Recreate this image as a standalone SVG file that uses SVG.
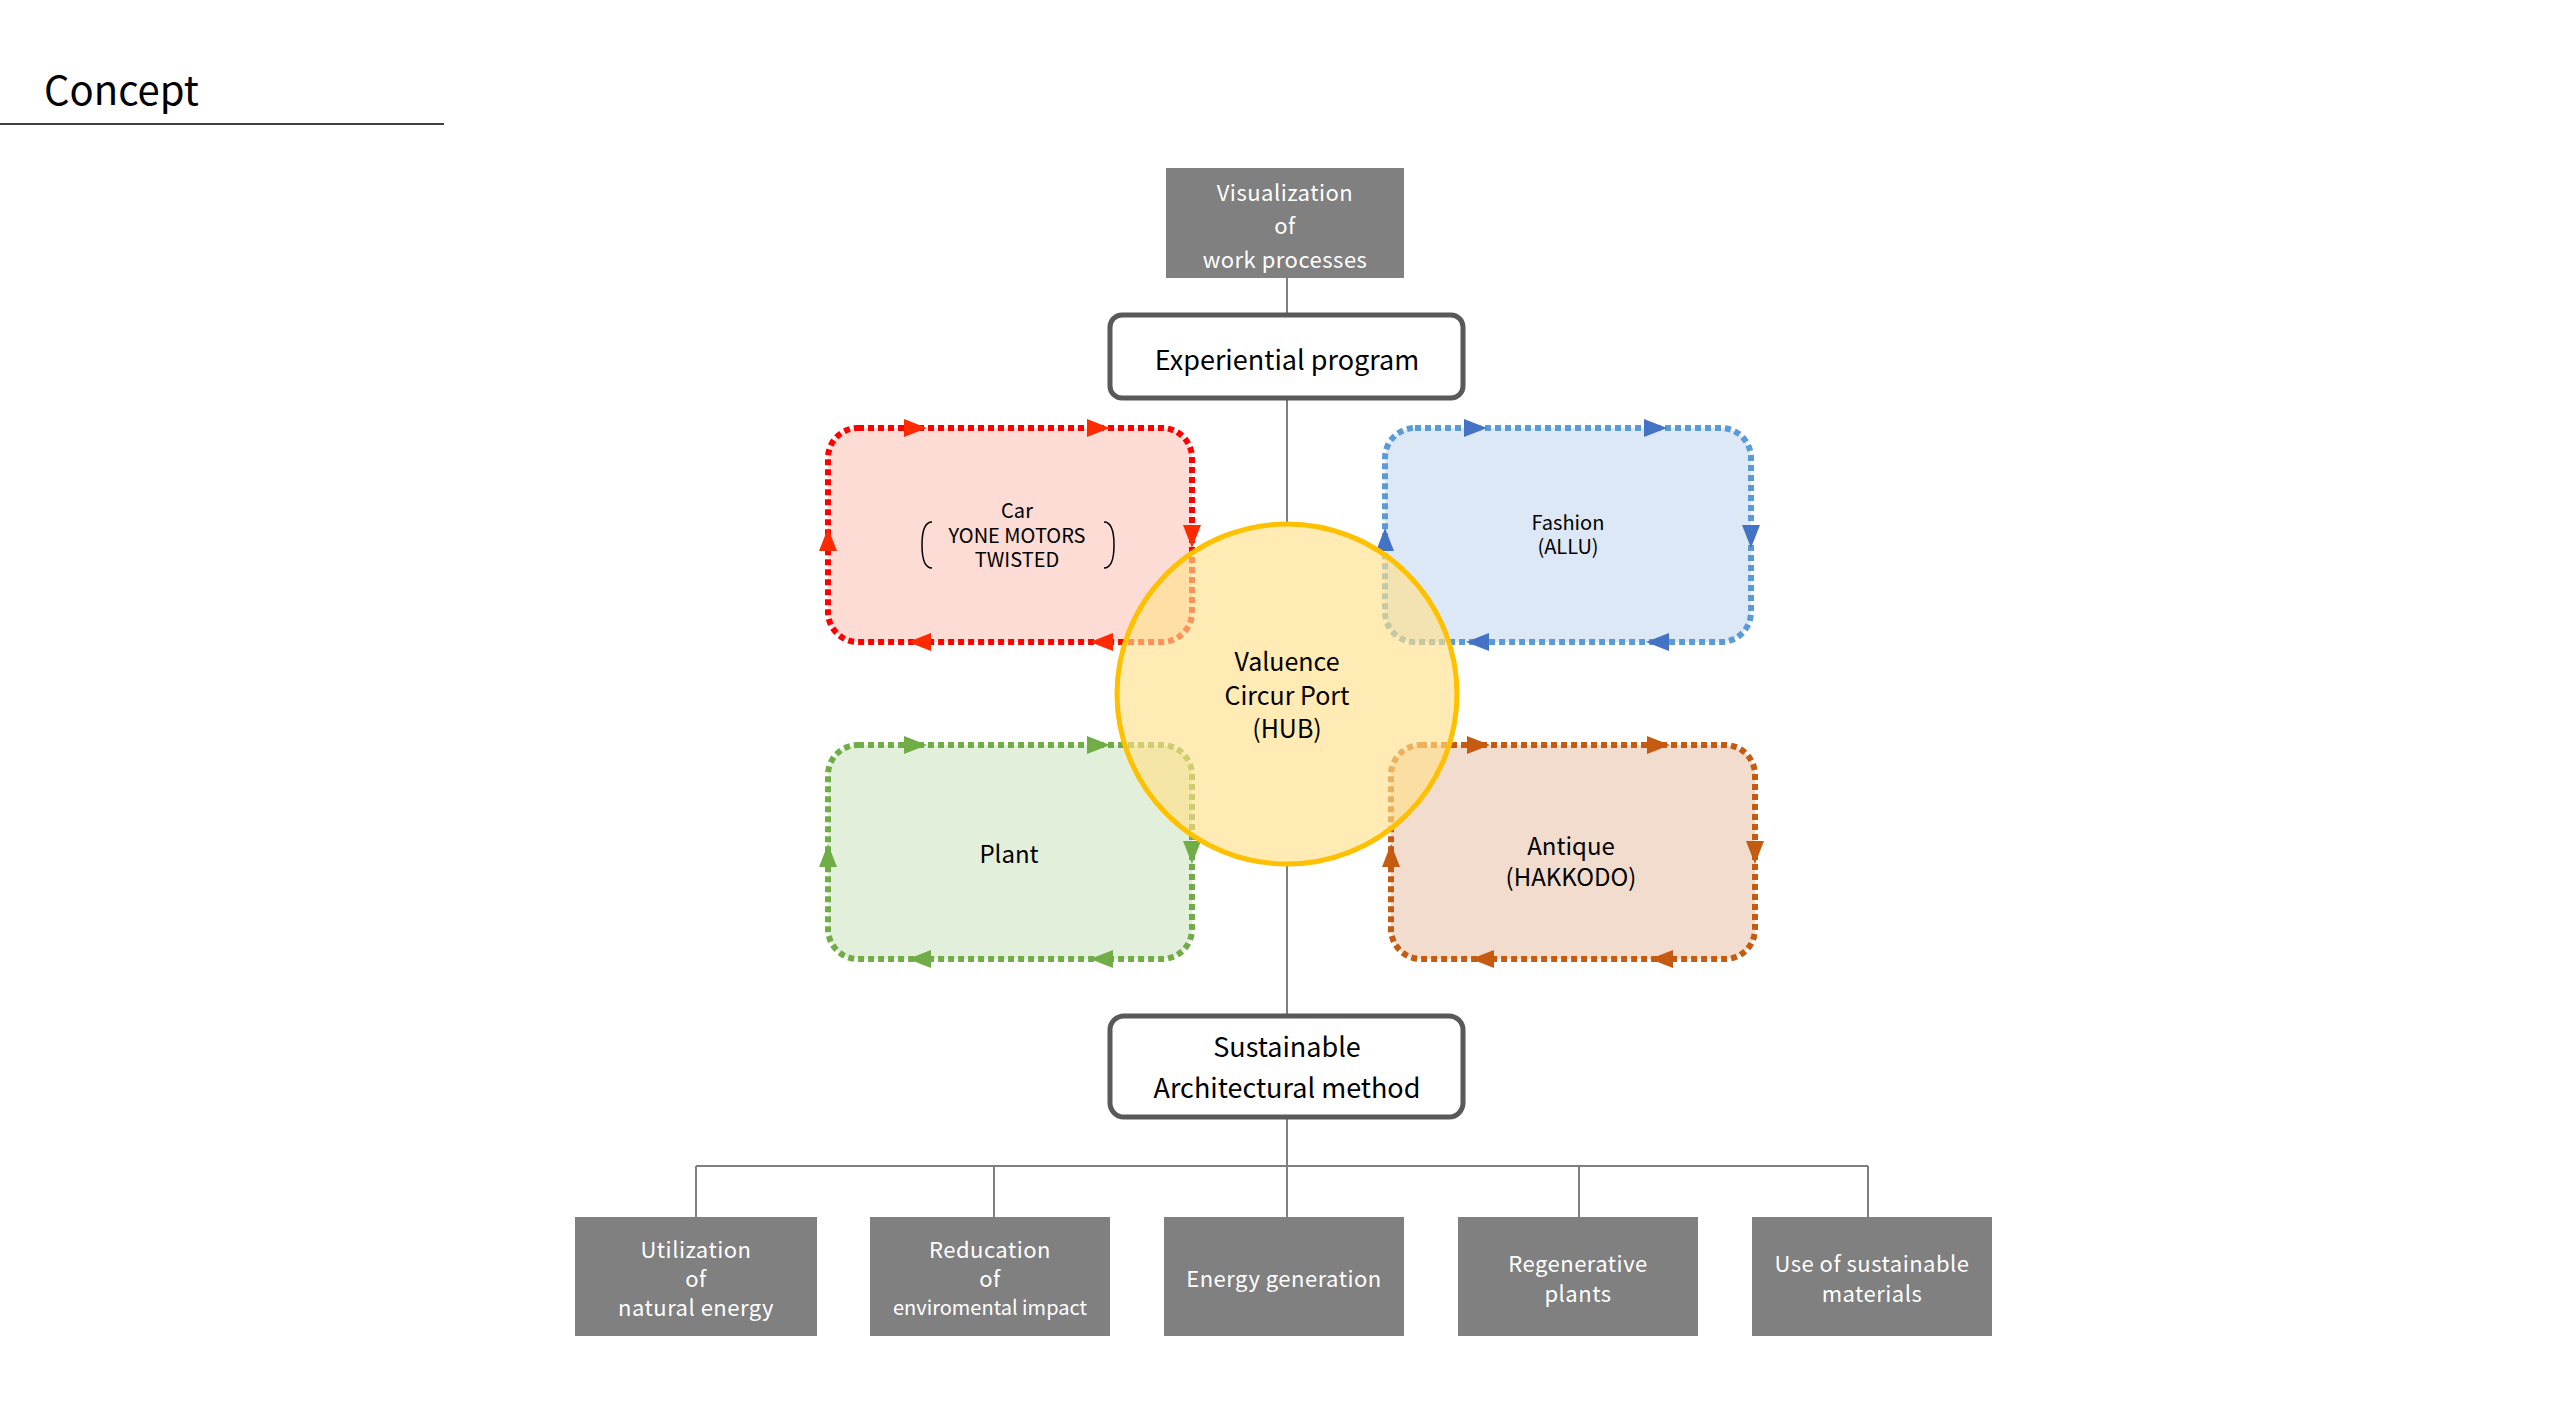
<svg xmlns="http://www.w3.org/2000/svg" xmlns:xlink="http://www.w3.org/1999/xlink" width="2560" height="1416" viewBox="0 0 2560 1416">
<style>
text{font-family:"Noto Sans CJK JP","Liberation Sans",sans-serif;text-anchor:middle;dominant-baseline:central}
.gray{fill:#808080}
.wt{fill:#fff;font-size:22px;letter-spacing:0.5px}
.wb{fill:#fff;stroke:#595959;stroke-width:5}
.bt{fill:#000;font-size:27px}
.ln{stroke:#7f7f7f;stroke-width:2;fill:none}
.loop{stroke-width:6;stroke-dasharray:6 4}
.st{fill:#000;font-size:20px}
</style>
<defs>
<polygon id="ar" points="-11,-9 12,0 -11,9"/>
</defs>
<rect width="2560" height="1416" fill="#fff"/>
<g id="title">
<text x="44" y="88" style="text-anchor:start;font-size:40px">Concept</text>
<line x1="0" y1="124" x2="444" y2="124" stroke="#404040" stroke-width="2"/>
</g>
<g id="connectors">
<line class="ln" x1="1287" y1="278" x2="1287" y2="315"/>
<line class="ln" x1="1287" y1="398" x2="1287" y2="524"/>
<line class="ln" x1="1287" y1="864" x2="1287" y2="1016"/>
<line class="ln" x1="1287" y1="1117" x2="1287" y2="1217"/>
<line class="ln" x1="696" y1="1166" x2="1868" y2="1166"/>
<line class="ln" x1="696" y1="1166" x2="696" y2="1217"/>
<line class="ln" x1="994" y1="1166" x2="994" y2="1217"/>
<line class="ln" x1="1579" y1="1166" x2="1579" y2="1217"/>
<line class="ln" x1="1868" y1="1166" x2="1868" y2="1217"/>
</g>
<g id="visualization">
<rect class="gray" x="1166" y="168" width="238" height="110"/>
<text class="wt" x="1285" y="191">Visualization</text>
<text class="wt" x="1285" y="224">of</text>
<text class="wt" x="1285" y="258">work processes</text>
</g>
<g id="experiential">
<rect class="wb" x="1110" y="315" width="353" height="83" rx="12"/>
<text class="bt" x="1287" y="358">Experiential program</text>
</g>
<g id="car">
<rect class="loop" x="828" y="428" width="364" height="214" rx="30" fill="#fddcd6" stroke="#ff0000"/>
<g fill="#ff2a00">
<use xlink:href="#ar" transform="translate(915,428)"/>
<use xlink:href="#ar" transform="translate(1098,428)"/>
<use xlink:href="#ar" transform="translate(1192,536) rotate(90)"/>
<use xlink:href="#ar" transform="translate(920,642) rotate(180)"/>
<use xlink:href="#ar" transform="translate(1102,642) rotate(180)"/>
<use xlink:href="#ar" transform="translate(828,540) rotate(-90)"/>
</g>
<text class="st" x="1017" y="509">Car</text>
<text class="st" x="1017" y="534">YONE MOTORS</text>
<text class="st" x="1017" y="558">TWISTED</text>
<path d="M932,522 Q922,522 922,545 Q922,568 932,568 M1104,522 Q1114,522 1114,545 Q1114,568 1104,568" fill="none" stroke="#000" stroke-width="1.5"/>
</g>
<g id="fashion">
<rect class="loop" x="1385" y="428" width="366" height="214" rx="30" fill="#dde8f6" stroke="#5b9bd5"/>
<g fill="#4472c4">
<use xlink:href="#ar" transform="translate(1475,428)"/>
<use xlink:href="#ar" transform="translate(1655,428)"/>
<use xlink:href="#ar" transform="translate(1751,536) rotate(90)"/>
<use xlink:href="#ar" transform="translate(1478,642) rotate(180)"/>
<use xlink:href="#ar" transform="translate(1658,642) rotate(180)"/>
<use xlink:href="#ar" transform="translate(1385,540) rotate(-90)"/>
</g>
<text class="st" x="1568" y="521">Fashion</text>
<text class="st" x="1568" y="545">(ALLU)</text>
</g>
<g id="plant">
<rect class="loop" x="828" y="745" width="364" height="214" rx="30" fill="#e2efda" stroke="#70ad47"/>
<g fill="#70ad47">
<use xlink:href="#ar" transform="translate(915,745)"/>
<use xlink:href="#ar" transform="translate(1098,745)"/>
<use xlink:href="#ar" transform="translate(1192,852) rotate(90)"/>
<use xlink:href="#ar" transform="translate(920,959) rotate(180)"/>
<use xlink:href="#ar" transform="translate(1102,959) rotate(180)"/>
<use xlink:href="#ar" transform="translate(828,856) rotate(-90)"/>
</g>
<text class="bt" x="1009" y="852" style="font-size:24px">Plant</text>
</g>
<g id="antique">
<rect class="loop" x="1391" y="745" width="364" height="214" rx="30" fill="#f2dcce" stroke="#c55a11"/>
<g fill="#c55a11">
<use xlink:href="#ar" transform="translate(1478,745)"/>
<use xlink:href="#ar" transform="translate(1658,745)"/>
<use xlink:href="#ar" transform="translate(1755,852) rotate(90)"/>
<use xlink:href="#ar" transform="translate(1483,959) rotate(180)"/>
<use xlink:href="#ar" transform="translate(1662,959) rotate(180)"/>
<use xlink:href="#ar" transform="translate(1391,856) rotate(-90)"/>
</g>
<text class="bt" x="1571" y="844" style="font-size:24px">Antique</text>
<text class="bt" x="1571" y="875" style="font-size:24px">(HAKKODO)</text>
</g>
<g id="hub">
<circle cx="1287" cy="694" r="170" fill="#ffe08a" fill-opacity="0.65" stroke="#ffc000" stroke-width="5"/>
<text class="bt" x="1287" y="660" style="font-size:25px">Valuence</text>
<text class="bt" x="1287" y="694" style="font-size:25px">Circur Port</text>
<text class="bt" x="1287" y="727" style="font-size:25px">(HUB)</text>
</g>
<g id="sustainable">
<rect class="wb" x="1110" y="1016" width="353" height="101" rx="14"/>
<text class="bt" x="1287" y="1045">Sustainable</text>
<text class="bt" x="1287" y="1086">Architectural method</text>
</g>
<g id="b1">
<rect class="gray" x="575" y="1217" width="242" height="119"/>
<text class="wt" x="696" y="1248">Utilization</text>
<text class="wt" x="696" y="1277">of</text>
<text class="wt" x="696" y="1306">natural energy</text>
</g>
<g id="b2">
<rect class="gray" x="870" y="1217" width="240" height="119"/>
<text class="wt" x="990" y="1248">Reducation</text>
<text class="wt" x="990" y="1277">of</text>
<text class="wt" x="990" y="1306" style="font-size:20px;letter-spacing:0">enviromental impact</text>
</g>
<g id="b3">
<rect class="gray" x="1164" y="1217" width="240" height="119"/>
<text class="wt" x="1284" y="1277">Energy generation</text>
</g>
<g id="b4">
<rect class="gray" x="1458" y="1217" width="240" height="119"/>
<text class="wt" x="1578" y="1262">Regenerative</text>
<text class="wt" x="1578" y="1292">plants</text>
</g>
<g id="b5">
<rect class="gray" x="1752" y="1217" width="240" height="119"/>
<text class="wt" x="1872" y="1262">Use of sustainable</text>
<text class="wt" x="1872" y="1292">materials</text>
</g>
</svg>
